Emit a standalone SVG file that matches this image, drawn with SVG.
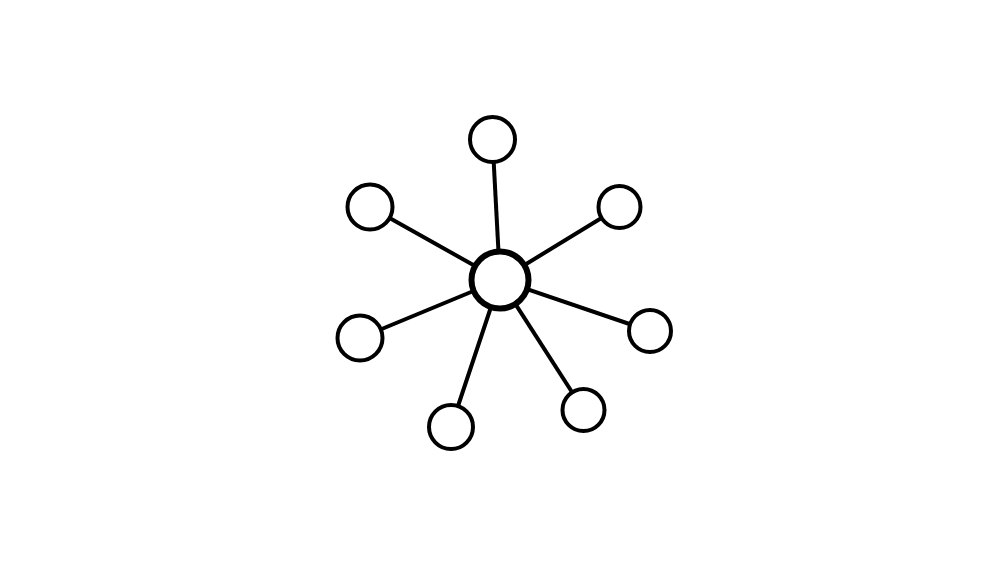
<svg xmlns="http://www.w3.org/2000/svg" width="1000" height="562" viewBox="0 0 1000 562">
<style>
.edge{stroke:#000;stroke-width:4;stroke-linecap:butt}
.leaf{fill:#fff;stroke:#000;stroke-width:4}
.hub{fill:#fff;stroke:#000;stroke-width:6}
</style>
<rect width="1000" height="562" fill="#fff"/>
<g id="connectors">
<line class="edge" x1="500" y1="280" x2="492.5" y2="139.5"/>
<line class="edge" x1="500" y1="280" x2="370" y2="207"/>
<line class="edge" x1="500" y1="280" x2="619.5" y2="207"/>
<line class="edge" x1="500" y1="280" x2="650" y2="331"/>
<line class="edge" x1="500" y1="280" x2="360" y2="338"/>
<line class="edge" x1="500" y1="280" x2="451" y2="427"/>
<line class="edge" x1="500" y1="280" x2="583.5" y2="410"/>
</g>
<g id="hub"><circle class="hub" cx="500" cy="280" r="28.5"/></g>
<g id="node-top"><circle class="leaf" cx="492.5" cy="139.5" r="22.5"/></g>
<g id="node-upper-left"><circle class="leaf" cx="370" cy="207" r="22.5"/></g>
<g id="node-upper-right"><circle class="leaf" cx="619.5" cy="207" r="21"/></g>
<g id="node-right"><circle class="leaf" cx="650" cy="331" r="21"/></g>
<g id="node-left"><circle class="leaf" cx="360" cy="338" r="22.5"/></g>
<g id="node-bottom-left"><circle class="leaf" cx="451" cy="427" r="22"/></g>
<g id="node-bottom-right"><circle class="leaf" cx="583.5" cy="410" r="21"/></g>
</svg>
